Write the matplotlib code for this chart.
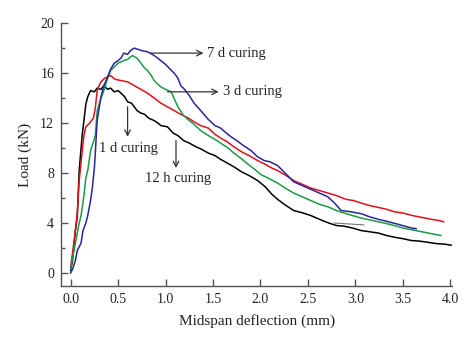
import numpy as np
import matplotlib
matplotlib.use("Agg")
from matplotlib import pyplot as plt
from matplotlib.ticker import MultipleLocator

plt.rcParams['font.family'] = ['Liberation Serif', 'DejaVu Serif']

# load-deflection curves for each curing age
x_12h = [0.0, 0.02, 0.05, 0.07, 0.09, 0.12, 0.14, 0.16, 0.18, 0.21, 0.25, 0.28, 0.32, 0.35, 0.39,
         0.42, 0.46, 0.50, 0.53, 0.57, 0.60, 0.64, 0.67, 0.70, 0.74, 0.78, 0.82, 0.88, 0.92, 0.95,
         1.02, 1.08, 1.13, 1.19, 1.25, 1.32, 1.38, 1.45, 1.52, 1.58, 1.65, 1.72, 1.80, 1.88, 1.97,
         2.05, 2.12, 2.18, 2.25, 2.35, 2.45, 2.53, 2.62, 2.72, 2.80, 2.88, 2.97, 3.06, 3.15, 3.24,
         3.33, 3.42, 3.50, 3.59, 3.68, 3.77, 3.86, 3.95, 4.03]
y_12h = [0.2, 1.0, 3.4, 4.5, 8.2, 10.9, 12.2, 13.5, 14.1, 14.6, 14.5, 14.8, 14.7, 15.0, 14.7,
         14.8, 14.5, 14.6, 14.4, 14.1, 13.7, 13.6, 13.3, 13.0, 12.8, 12.7, 12.4, 12.2, 12.0, 11.8,
         11.7, 11.2, 11.0, 10.6, 10.4, 10.1, 9.9, 9.6, 9.4, 9.1, 8.8, 8.5, 8.1, 7.8, 7.4,
         6.9, 6.3, 5.9, 5.5, 5.0, 4.8, 4.6, 4.3, 4.0, 3.8, 3.75, 3.6, 3.4, 3.3, 3.2,
         3.0, 2.85, 2.75, 2.6, 2.55, 2.45, 2.35, 2.3, 2.2]

# stray straight segment recorded alongside the 12 h test
x_12h_seg = [2.78, 3.09]
y_12h_seg = [4.0, 3.85]

x_1d = [0.0, 0.02, 0.05, 0.07, 0.09, 0.12, 0.14, 0.16, 0.20, 0.24, 0.26, 0.28, 0.30, 0.32, 0.36,
        0.42, 0.47, 0.53, 0.60, 0.67, 0.74, 0.81, 0.88, 0.95, 1.02, 1.09, 1.16, 1.24, 1.30, 1.37,
        1.45, 1.52, 1.58, 1.65, 1.72, 1.80, 1.88, 1.97, 2.05, 2.12, 2.18, 2.27, 2.35, 2.44, 2.53,
        2.62, 2.71, 2.80, 2.90, 2.98, 3.06, 3.15, 3.24, 3.33, 3.41, 3.50, 3.60, 3.70, 3.80, 3.88,
        3.93]
y_1d = [0.5, 1.6, 3.4, 4.8, 7.4, 9.6, 11.0, 11.7, 12.0, 12.4, 13.2, 14.6, 15.0, 15.3, 15.6,
        15.8, 15.5, 15.4, 15.3, 15.0, 14.7, 14.4, 14.0, 13.6, 13.3, 13.0, 12.7, 12.4, 12.1, 11.8,
        11.6, 11.1, 10.8, 10.5, 10.1, 9.7, 9.4, 9.0, 8.7, 8.4, 8.2, 7.8, 7.4, 7.1, 6.8,
        6.6, 6.4, 6.2, 5.9, 5.8, 5.6, 5.4, 5.25, 5.1, 4.9, 4.8, 4.6, 4.45, 4.3, 4.2,
        4.1]

x_3d = [0.0, 0.02, 0.05, 0.09, 0.11, 0.14, 0.16, 0.18, 0.21, 0.24, 0.26, 0.28, 0.32, 0.35, 0.39,
        0.42, 0.46, 0.50, 0.56, 0.60, 0.65, 0.70, 0.74, 0.78, 0.81, 0.85, 0.88, 0.92, 0.95, 1.00,
        1.06, 1.10, 1.13, 1.19, 1.25, 1.30, 1.37, 1.45, 1.52, 1.58, 1.66, 1.72, 1.79, 1.87, 1.94,
        2.00, 2.08, 2.18, 2.26, 2.35, 2.44, 2.53, 2.62, 2.71, 2.80, 2.88, 2.97, 3.06, 3.15, 3.24,
        3.33, 3.41, 3.50, 3.60, 3.70, 3.80, 3.90]
y_3d = [0.3, 1.2, 2.4, 4.0, 4.6, 6.2, 7.6, 8.2, 9.8, 10.5, 11.0, 13.0, 14.0, 14.6, 15.6,
        16.2, 16.5, 16.8, 17.0, 17.1, 17.4, 17.2, 16.8, 16.4, 16.2, 15.8, 15.4, 15.1, 14.9, 14.7,
        14.5, 13.8, 13.3, 12.6, 12.2, 11.9, 11.4, 11.0, 10.7, 10.4, 10.0, 9.6, 9.2, 8.7, 8.3,
        7.9, 7.6, 7.2, 6.8, 6.4, 6.1, 5.8, 5.5, 5.3, 5.0, 4.8, 4.6, 4.4, 4.25, 4.1,
        3.95, 3.8, 3.6, 3.45, 3.3, 3.15, 3.0]

x_7d = [0.0, 0.02, 0.05, 0.07, 0.11, 0.13, 0.16, 0.18, 0.21, 0.23, 0.25, 0.26, 0.27, 0.28, 0.30,
        0.32, 0.35, 0.39, 0.42, 0.46, 0.50, 0.53, 0.56, 0.60, 0.63, 0.67, 0.71, 0.75, 0.81, 0.86,
        0.90, 0.95, 1.00, 1.05, 1.09, 1.13, 1.16, 1.20, 1.25, 1.30, 1.37, 1.45, 1.52, 1.58, 1.64,
        1.69, 1.75, 1.82, 1.90, 1.97, 2.04, 2.10, 2.18, 2.26, 2.35, 2.44, 2.53, 2.62, 2.71, 2.78,
        2.85, 2.95, 3.06, 3.15, 3.24, 3.35, 3.45, 3.52, 3.59, 3.64]
y_7d = [0.0, 0.3, 1.0, 1.8, 2.4, 3.4, 4.0, 4.6, 5.8, 6.9, 8.4, 9.6, 11.0, 12.2, 13.2,
        14.1, 15.0, 15.7, 16.3, 16.8, 17.0, 17.2, 17.6, 17.5, 17.8, 18.0, 17.9, 17.8, 17.7, 17.5,
        17.3, 17.0, 16.7, 16.3, 16.0, 15.6, 15.0, 14.7, 14.2, 13.6, 13.0, 12.3, 11.8, 11.6, 11.2,
        10.9, 10.6, 10.2, 9.8, 9.3, 9.0, 8.9, 8.6, 8.0, 7.3, 7.0, 6.7, 6.4, 6.1, 5.6,
        5.0, 4.9, 4.75, 4.5, 4.3, 4.1, 3.9, 3.75, 3.6, 3.55]

fig = plt.figure(figsize=(4.74, 3.45), dpi=100)
ax = fig.add_axes([0.129, 0.171, 0.825, 0.762])

lw = 1.1
ax.plot(x_12h, y_12h, color="black", lw=lw)
ax.plot(x_12h_seg, y_12h_seg, color="#777777", lw=0.8)
ax.plot(x_1d, y_1d, color="#e0101c", lw=lw)
ax.plot(x_3d, y_3d, color="#1c9a45", lw=lw)
ax.plot(x_7d, y_7d, color="#27279a", lw=lw)

ax.set_xlim(-0.1, 4.02)
ax.set_ylim(-1.04, 20)
ax.xaxis.set_major_locator(MultipleLocator(0.5))
ax.yaxis.set_major_locator(MultipleLocator(4))
ax.yaxis.set_minor_locator(MultipleLocator(2))
ax.xaxis.set_major_formatter(matplotlib.ticker.FormatStrFormatter("%.1f"))

for side in ["top", "right"]:
    ax.spines[side].set_visible(False)
for side in ["left", "bottom"]:
    ax.spines[side].set_color("#555555")
    ax.spines[side].set_linewidth(1.0)
ax.tick_params(which="major", direction="in", length=5, width=1.0, color="#555555",
               labelsize=10, labelcolor="#222222", pad=5)
ax.tick_params(which="minor", direction="in", length=3, width=1.0, color="#555555")

ax.set_xlabel("Midspan deflection (mm)", fontsize=11, color="#222222", labelpad=6)
ax.set_ylabel("Load (kN)", fontsize=11, color="#222222", labelpad=6)

arrow = dict(arrowstyle="->", color="#333333", lw=0.9, shrinkA=0, shrinkB=0)
txt = dict(fontsize=10.5, color="#222222")
ax.annotate("", xy=(1.40, 17.6), xytext=(0.84, 17.6), arrowprops=arrow)
ax.text(1.44, 17.6, "7 d curing", va="center", ha="left", **txt)
ax.annotate("", xy=(1.56, 14.5), xytext=(1.02, 14.5), arrowprops=arrow)
ax.text(1.60, 14.5, "3 d curing", va="center", ha="left", **txt)
ax.annotate("", xy=(0.60, 10.9), xytext=(0.60, 13.3), arrowprops=arrow)
ax.text(0.61, 10.0, "1 d curing", va="center", ha="center", **txt)
ax.annotate("", xy=(1.11, 8.4), xytext=(1.11, 10.6), arrowprops=arrow)
ax.text(1.13, 7.55, "12 h curing", va="center", ha="center", **txt)

fig.savefig("out.png", dpi=100)
